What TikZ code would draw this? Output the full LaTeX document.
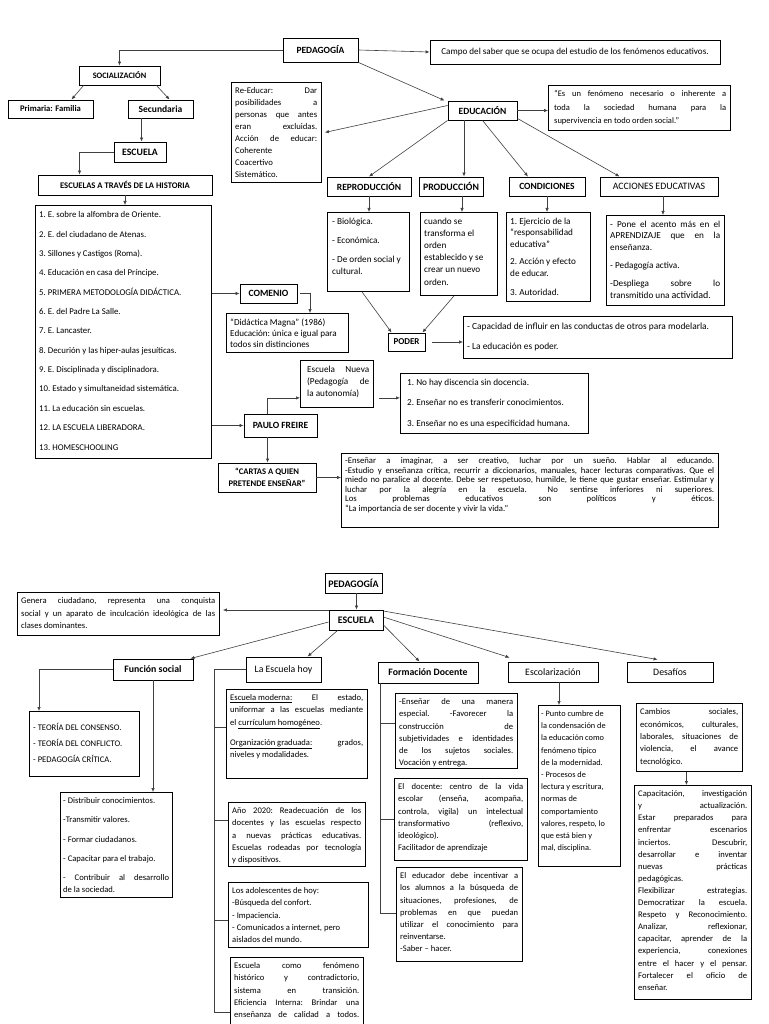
\documentclass[tikz,border=0pt]{standalone}
\usepackage{fontspec}
\setmainfont{Carlito}
\usetikzlibrary{arrows.meta}
\newcommand{\tf}[2]{\fontsize{#1}{#2}\selectfont}
\newcommand{\jl}[1]{{\spaceskip=0pt\xspaceskip=0pt\makebox[\hsize][s]{#1}}\\}
\newcommand{\jlast}[1]{{\spaceskip=0pt\xspaceskip=0pt\makebox[\hsize][s]{#1}}}
\tikzset{
 boxst/.style={draw=black, line width=0.9pt, inner sep=0pt},
 hd/.style={boxst, font=\bfseries\tf{9.5}{12}, align=center},
 hdr/.style={font=\tf{9.5}{12}},
 txt/.style={anchor=north west, inner sep=0pt, align=justify, font=\tf{8.6}{12.2}},
 top/.style={font=\tf{9.2}{12.2}},
 conn/.style={draw=black!75, line width=0.6pt},
 arr/.style={conn, -{Latex[length=4pt,width=3.4pt]}},
}
\newcommand{\hbx}[7][]{\node[hd, minimum width={#5-#3}, minimum height={#6-#4}, #1] (#2) at ({(#3+#5)/2},{(#4+#6)/2}) {#7};}
\newcommand{\tbox}[7][]{%
 \node[boxst, anchor=north west, minimum width={#5-#3}, minimum height={#6-#4}] (#2) at (#3,#4) {};
 \node[txt, text width={#5-#3-8}, #1] at (#3+4,#4+5.5) {\spaceskip=0pt\xspaceskip=0pt\frenchspacing #7};}
\begin{document}
\begin{tikzpicture}[x=1pt,y=-1pt]
\useasboundingbox (0,0) rectangle (768,1024);
\fill[white] (0,0) rectangle (768,1024);
% ---------- top half ----------
\hbx{ped}{283}{38}{358}{62}{PEDAGOGÍA}
\hbx[font=\tf{9.1}{12}]{campo}{430}{40}{720}{64}{Campo del saber que se ocupa del estudio de los fenómenos educativos.}
\hbx[font=\bfseries\tf{8.3}{10}]{soc}{79}{66}{160}{85}{SOCIALIZACIÓN}
\hbx[font=\bfseries\tf{8.6}{10}]{prim}{8}{100}{93}{118}{Primaria: Familia}
\hbx{sec}{128}{100}{193}{118}{Secundaria}
\hbx[font=\bfseries\tf{9.8}{10}]{esc}{114}{142}{166}{162}{ESCUELA}
\hbx[font=\bfseries\tf{8.6}{10}]{hist}{38}{175}{212}{195}{ESCUELAS A TRAVÉS DE LA HISTORIA}
\tbox[font=\tf{8.8}{19.35}, yshift=-1pt]{list}{35}{205}{211}{458}{%
1. E. sobre la alfombra de Oriente.\\
2. E. del ciudadano de Atenas.\\
3. Sillones y Castigos (Roma).\\
4. Educación en casa del Príncipe.\\
5. PRIMERA METODOLOGÍA DIDÁCTICA.\\
6. E. del Padre La Salle.\\
7. E. Lancaster.\\
8. Decurión y las hiper-aulas jesuíticas.\\
9. E. Disciplinada y disciplinadora.\\
10. Estado y simultaneidad sistemática.\\
11. La educación sin escuelas.\\
12. LA ESCUELA LIBERADORA.\\
13. HOMESCHOOLING}
\tbox[font=\tf{8.7}{12}]{reed}{231}{82}{321}{182}{%
\jl{Re-Educar: Dar}
\jl{posibilidades a}
\jl{personas que antes}
\jl{eran excluidas.}
\jl{Acción de educar:}
Coherente\\
Coacertivo\\
Sistemático.}
\hbx{edu}{448}{101}{517}{120}{EDUCACIÓN}
\tbox[font=\tf{8.5}{13.3}, xshift=2pt, text width=172pt]{quote}{548}{85}{730}{130}{%
\jl{“Es un fenómeno necesario o inherente a}
\jl{toda la sociedad humana para la}
supervivencia en todo orden social.”}
\hbx{rep}{327}{177}{411}{196}{REPRODUCCIÓN}
\hbx[font=\bfseries\tf{9.8}{12}]{prod}{419}{177}{483}{196}{PRODUCCIÓN}
\hbx{cond}{509}{177}{585}{196}{CONDICIONES}
\hbx[font=\tf{9.8}{12}]{acc}{600}{177}{718}{196}{ACCIONES EDUCATIVAS}
\tbox[top, xshift=1pt]{repc}{327}{212}{409}{291}{- Biológica.\\[6.8pt]- Económica.\\[6.8pt]- De orden social y\\cultural.}
\tbox[top]{prodc}{420}{212}{497}{295}{cuando se\\transforma el\\orden\\establecido y se\\crear un nuevo\\orden.}
\tbox[font=\tf{9.2}{11.8}]{condc}{506}{212}{590}{301}{1. Ejercicio de la\\“responsabilidad\\educativa”\\[5.5pt]2. Acción y efecto\\de educar.\\[7pt]3. Autoridad.}
\tbox[font=\tf{9.2}{11.8}]{accc}{606}{215}{724}{305}{%
\jl{- Pone el acento más en el}
\jl{APRENDIZAJE que en la}
enseñanza.\\[6.2pt]
- Pedagogía activa.\\[6.2pt]
\jl{-Despliega sobre lo}
transmitido una {\tf{10}{11.8}actividad}.}
\hbx[font=\bfseries\tf{9.6}{12}]{com}{240}{284}{297}{303}{COMENIO}
\tbox[font=\tf{9.1}{11}]{dida}{226}{313}{348}{352}{“Didáctica Magna” (1986)\\Educación: única e igual para\\todos sin distinciones}
\hbx[font=\bfseries\tf{9}{12}]{poder}{388}{333}{425}{351}{PODER}
\tbox[font=\tf{9.4}{12.2}, yshift=-1.5pt]{capac}{463}{316}{732}{358}{- Capacidad de influir en las conductas de otros para modelarla.\\[8pt]- La educación es poder.}
\tbox[font=\tf{9.2}{12}, xshift=3pt, text width=62pt]{en}{300}{360}{373}{407}{\jl{Escuela Nueva}\jl{(Pedagogía de}la autonomía)}
\tbox[font=\tf{9.2}{20.5}, xshift=3pt]{enl}{400}{373}{588}{433}{1. No hay discencia sin docencia.\\2. Enseñar no es transferir conocimientos.\\3. Enseñar no es una especificidad humana.}
\hbx{pf}{244}{414}{317}{437}{PAULO FREIRE}
\hbx[font=\bfseries\tf{8.6}{12.5}]{cart}{218}{463}{316}{492}{“CARTAS A QUIEN\\PRETENDE ENSEÑAR”}
\tbox[font=\tf{8.7}{9.5}, yshift=1pt]{cartl}{341}{453}{718}{527}{%
\jl{-Enseñar a imaginar, a ser creativo, luchar por un sueño. Hablar al educando.}
\jl{-Estudio y enseñanza crítica, recurrir a diccionarios, manuales, hacer lecturas comparativas. Que el}
\jl{miedo no paralice al docente. Debe ser respetuoso, humilde, le tiene que gustar enseñar. Estimular y}
\jl{luchar por la alegría en la escuela. \quad No sentirse inferiores ni superiores.}
\jl{Los problemas educativos son políticos y éticos.}
“La importancia de ser docente y vivir la vida.”}
% top connectors
\draw[arr] (ped.east) -- (campo.west);
\draw[arr] (ped.west) -| (soc.north);
\draw[arr] ([xshift=5pt]soc.south west) -- ([xshift=64pt]prim.north west);
\draw[arr] ([xshift=-4pt]soc.south east) -- ([xshift=42pt]sec.north west);
\draw[arr] ([xshift=14pt]sec.south west) -- ([xshift=28pt]esc.north west);
\draw[arr] (esc.west) -| ([xshift=42pt]hist.north west);
\draw[arr] (hist.south) -- (hist.south |- list.north);
\draw[arr] (list.east |- com.west) -- (com.west);
\draw[arr] ([xshift=3pt]com.east) -| ([xshift=84pt]dida.north west);
\draw[arr] (list.east |- pf.west) -- (pf.west);
\draw[arr] ([xshift=24pt]pf.north west) |- ([yshift=10pt]en.south west);
\draw[arr] ([xshift=5pt,yshift=10pt]en.south east) -- ([yshift=10pt]en.south east -| enl.west);
\draw[arr] ([xshift=24pt]pf.south west) -- ([xshift=24pt]pf.south west |- cart.north);
\draw[arr] (cart.east) -- (cart.east -| cartl.west);
\draw[arr] (ped.south east) -- ([xshift=-3pt]edu.north west);
\draw[arr] (edu.east) -- (edu.east -| quote.west);
\draw[arr] ([yshift=5pt]edu.west) -- ([xshift=3pt]reed.east);
\draw[arr] (edu.south west) -- (rep.north);
\draw[arr] ([xshift=13pt]prod.north |- edu.south) -- ([xshift=13pt]prod.north);
\draw[arr] (edu.south) -- ([xshift=-19pt]cond.north);
\draw[arr] ([yshift=2pt]edu.south east) -- ([xshift=20pt]acc.north west);
\draw[arr] (rep.south) -- (rep.south |- repc.north);
\draw[arr] ([xshift=11pt]prod.south) -- ([xshift=11pt]prod.south |- prodc.north);
\draw[arr] (cond.south) -- (cond.south |- condc.north);
\draw[arr] ([xshift=4pt]acc.south) -- ([xshift=4pt]acc.south |- accc.north);
\draw[arr] ([xshift=35pt]repc.south west) -- ([xshift=4pt]poder.north west);
\draw[arr] ([xshift=34pt]prodc.south west) -- ([xshift=-3pt]poder.north east);
\draw[arr] ([xshift=7pt]poder.east) -- (poder.east -| capac.west);
% ---------- bottom half ----------
\hbx[font=\bfseries\tf{10}{12}]{ped2}{325}{573}{382}{593}{PEDAGOGÍA}
\hbx[font=\bfseries\tf{10}{12}]{esc2}{329}{610}{383}{630}{ESCUELA}
\tbox[font=\tf{8.6}{12.5}]{gen}{17}{592}{219}{635}{%
\jl{Genera ciudadano, representa una conquista}
\jl{social y un aparato de inculcación ideológica de las}
clases dominantes.}
\hbx[font=\bfseries\tf{9.8}{12}]{fs}{113}{659}{193}{680}{Función social}
\hbx[font=\tf{9.8}{12}]{eh}{246}{657}{321}{682}{La Escuela hoy}
\hbx[font=\bfseries\tf{9.8}{12}]{fd}{378}{662}{478}{683}{Formación Docente}
\hbx[font=\tf{9.8}{12}]{escol}{508}{662}{598}{682}{Escolarización}
\hbx[font=\tf{9.8}{12}]{des}{627}{662}{713}{682}{Desafíos}
\tbox[font=\tf{8.6}{16}, yshift=-7pt]{teo}{29}{711}{139}{776}{- TEORÍA DEL CONSENSO.\\- TEORÍA DEL CONFLICTO.\\- PEDAGOGÍA CRÍTICA.}
\tbox[xshift=-1pt, text width=106pt]{dist}{60}{792}{172}{897}{%
- Distribuir conocimientos.\\[7pt]
-Transmitir valores.\\[7pt]
- Formar ciudadanos.\\[7pt]
- Capacitar para el trabajo.\\[7pt]
\jl{- Contribuir al desarrollo}
de la sociedad.}
\tbox{em}{226}{689}{367}{778}{%
\jl{\underline{Escuela moderna:} El estado,}
\jl{uniformar a las escuelas mediante}
el \underline{currículum homogéneo}.\\[8pt]
\jl{\underline{Organización graduada:} grados,}
niveles y modalidades.}
\tbox{a20}{228}{802}{365}{866}{%
\jl{Año 2020: Readecuación de los}
\jl{docentes y las escuelas respecto}
\jl{a nuevas prácticas educativas.}
\jl{Escuelas rodeadas por tecnología}
y dispositivos.}
\tbox{ado}{228}{882}{368}{947}{Los adolescentes de hoy:\\-Búsqueda del confort.\\- Impaciencia.\\- Comunicados a internet, pero\\aislados del mundo.}
\tbox{ecf}{230}{957}{363}{1040}{%
\jl{Escuela como fenómeno}
\jl{histórico y contradictorio,}
\jl{sistema en transición.}
\jl{Eficiencia Interna: Brindar una}
\jlast{enseñanza de calidad a todos.}}
\tbox{ens}{395}{693}{517}{768}{%
\jl{-Enseñar de una manera}
\jl{especial. -Favorecer la}
\jl{construcción de}
\jl{subjetividades e identidades}
\jl{de los sujetos sociales.}
Vocación y entrega.}
\tbox{doc}{394}{778}{527}{860}{%
\jl{El docente: centro de la vida}
\jl{escolar (enseña, acompaña,}
\jl{controla, vigila) un intelectual}
\jl{transformativo (reflexivo,}
ideológico).\\
Facilitador de aprendizaje}
\tbox{educ}{396}{867}{522}{961}{%
\jl{El educador debe incentivar a}
\jl{los alumnos a la búsqueda de}
\jl{situaciones, profesiones, de}
\jl{problemas en que puedan}
\jl{utilizar el conocimiento para}
reinventarse.\\
-Saber – hacer.}
\tbox[font=\tf{8.3}{12.2}, xshift=-1pt, text width=79pt]{escc}{538}{705}{620}{866}{- Punto cumbre de\\la condensación de\\la educación como\\fenómeno típico\\de la modernidad.\\- Procesos de\\lectura y escritura,\\normas de\\comportamiento\\valores, respeto, lo\\que está bien y\\mal, disciplina.}
\tbox[font=\tf{8.6}{12.4}]{camb}{636}{703}{742}{771}{%
\jl{Cambios sociales,}
\jl{económicos, culturales,}
\jl{laborales, situaciones de}
\jl{violencia, el avance}
tecnológico.}
\tbox[font=\tf{8.6}{12.1}]{capa}{634}{785}{751}{999}{%
\jl{Capacitación, investigación}
\jl{y actualización.}
\jl{Estar preparados para}
\jl{enfrentar escenarios}
\jl{inciertos. Descubrir,}
\jl{desarrollar e inventar}
\jl{nuevas prácticas}
pedagógicas.\\
\jl{Flexibilizar estrategias.}
\jl{Democratizar la escuela.}
\jl{Respeto y Reconocimiento.}
\jl{Analizar, reflexionar,}
\jl{capacitar, aprender de la}
\jl{experiencia, conexiones}
\jl{entre el hacer y el pensar.}
\jl{Fortalecer el oficio de}
enseñar.}
% bottom connectors
\draw[arr] ([xshift=3pt]ped2.south) -- ([xshift=3pt]ped2.south |- esc2.north);
\draw[arr] ([yshift=10pt]esc2.west) -- ([xshift=3pt,yshift=10pt]esc2.west -| gen.east);
\draw[arr] ([yshift=-2pt]esc2.west) -- ([xshift=-3pt]fs.north east);
\draw[arr] ([xshift=9pt]esc2.south west) -- ([xshift=62pt]eh.north west);
\draw[arr] ([yshift=-5pt]esc2.east) -- ([xshift=42pt]fd.north west);
\draw[arr] ([yshift=3pt]esc2.east) -- ([xshift=2pt,yshift=4pt]escol.north west);
\draw[arr] ([yshift=9pt]esc2.east) -- ([xshift=31pt,yshift=2pt]des.north west);
\draw[arr] (fs.west) -| ([xshift=10pt]teo.north west);
\draw[arr] (fs.south) -- (fs.south |- dist.north);
\coordinate (ehb) at (214,1012);
\draw[conn] (eh.west) -| (ehb) -- (ehb -| ecf.west);
\draw[conn] ([yshift=6.5pt]em.west -| ehb) -- ([yshift=6.5pt]em.west);
\draw[conn] ([yshift=14pt]a20.west -| ehb) -- ([yshift=14pt]a20.west);
\draw[conn] ([yshift=-5.5pt]ado.west -| ehb) -- ([yshift=-5.5pt]ado.west);
\coordinate (fdb) at (380,913);
\draw[conn] (fd.south west -| fdb) -- (fdb) -- (fdb -| educ.west);
\draw[conn] ([yshift=8pt]ens.west -| fdb) -- ([yshift=8pt]ens.west);
\draw[conn] (doc.west -| fdb) -- (doc.west);
\draw[arr] ([xshift=6pt]escol.south) -- ([xshift=6pt]escol.south |- escc.north);
\draw[arr] ([xshift=-3pt]camb.south) -- ([xshift=-3pt]camb.south |- capa.north);
\end{tikzpicture}
\end{document}
